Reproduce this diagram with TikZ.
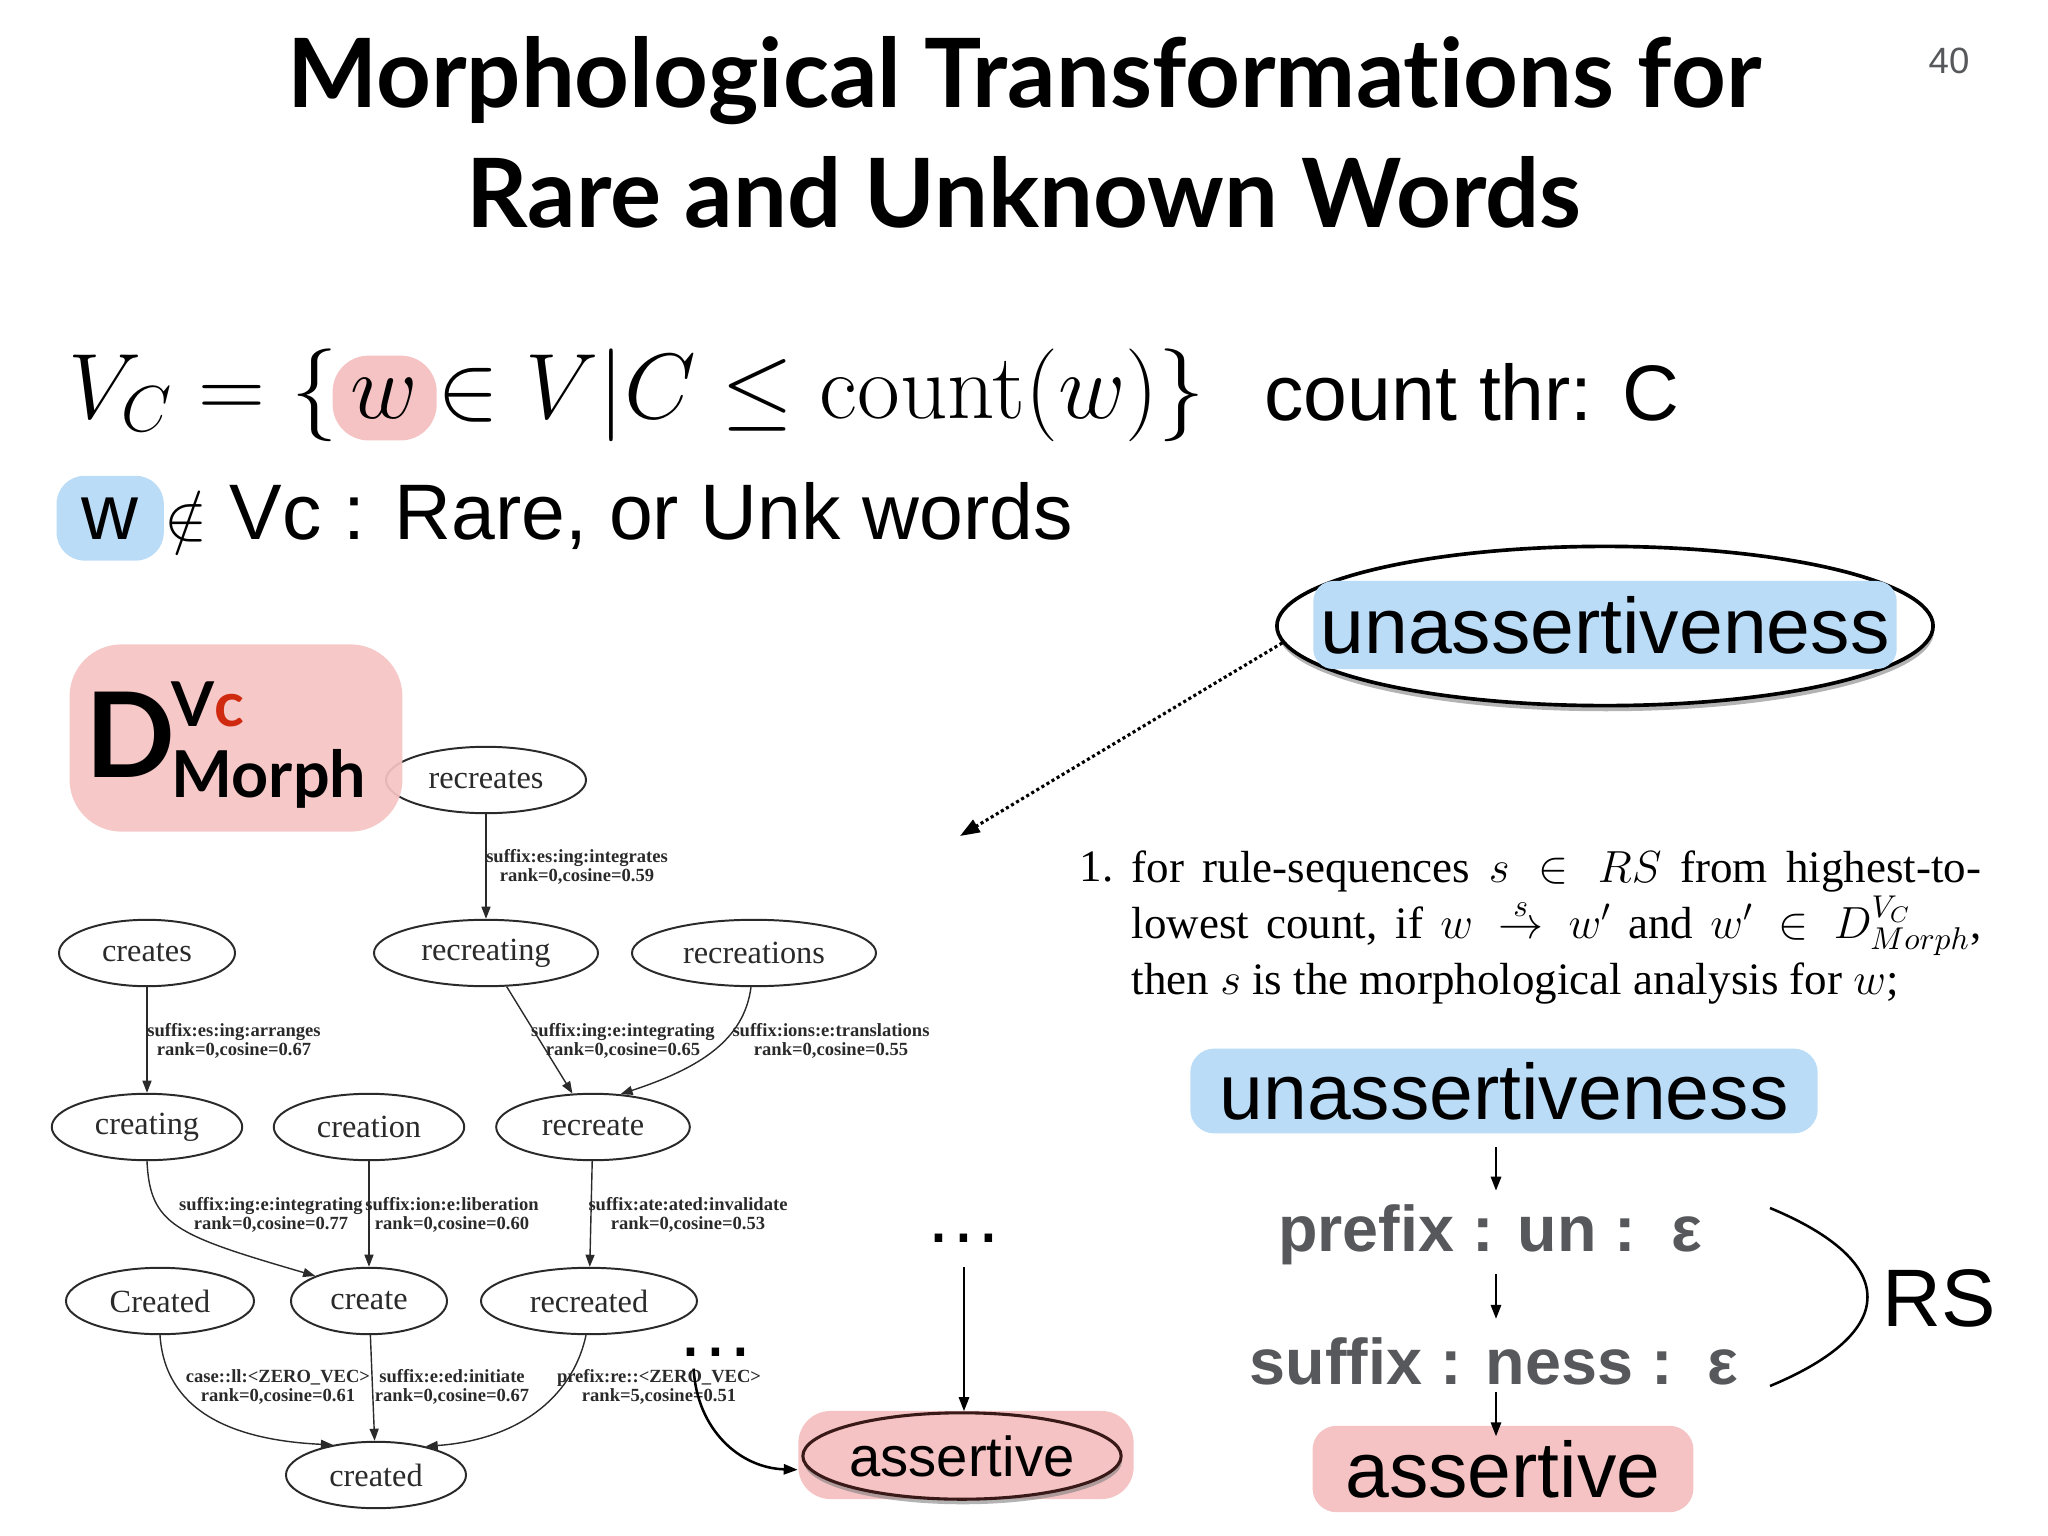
\RequirePackage{fix-cm}
\documentclass[tikz,border=0pt]{standalone}
\usepackage[no-math]{fontspec}
\setmainfont{Liberation Sans}
\newfontfamily\titlefont[Ligatures=NoCommon]{Lato}
\newfontfamily\graphfont{Liberation Serif}
\usetikzlibrary{arrows.meta, positioning, calc, shapes.geometric, shadows}
\definecolor{slidepink}{HTML}{F5C3C3}
\definecolor{slideblue}{HTML}{BBDCF7}
\definecolor{rulegray}{HTML}{57585B}
\definecolor{vcred}{HTML}{CF2A10}
\definecolor{graphink}{HTML}{2A2A2A}
\definecolor{assertrim}{HTML}{3A1A18}

\tikzset{
  wordnode/.style={ellipse, draw=graphink, line width=0.7pt, inner sep=0pt,
    minimum height=0.83cm, text=graphink, font=\graphfont\fontsize{11.5}{12}\selectfont},
  edgelabel/.style={inner sep=0pt, align=center, text=graphink,
    font=\graphfont\bfseries\fontsize{6.6}{6.6}\selectfont},
  graphedge/.style={-{Triangle[length=4.3pt, width=3.2pt]}, line width=0.5pt, graphink},
  rulearrow/.style={-{Triangle[length=5pt, width=3.6pt]}, line width=0.9pt},
  pinkbox/.style={fill=slidepink, rounded corners=0.3cm, inner sep=0pt},
  bluebox/.style={fill=slideblue, rounded corners=0.3cm, inner sep=0pt},
  slidetext/.style={inner sep=0pt, font=\fontsize{28}{32}\selectfont},
  ruletext/.style={inner sep=0pt, text=rulegray, font=\bfseries\fontsize{23}{26}\selectfont},
}

\begin{document}
\begin{tikzpicture}[x=0.0125cm, y=-0.0125cm]
  \useasboundingbox (0,0) rectangle (2048,1536);
  % Title
  \node[anchor=base, font=\titlefont\bfseries\fontsize{34}{40}\selectfont] (titleA) at (1024,107) {Morphological Transformations for};
  \node[anchor=base, font=\titlefont\bfseries\fontsize{34}{40}\selectfont] (titleB) at (1024,227) {Rare and Unknown Words};
  \node[anchor=base, text=rulegray, font=\fontsize{13}{15}\selectfont] (pagenum) at (1949,74) {40};

  % Vocabulary
  \node[anchor=base west, inner sep=0pt, font=\fontsize{33}{38}\selectfont] (vcleft) at (68,418) {$V_C=\bigl\{$};
  \node[pinkbox, anchor=base west, minimum width=1.3cm, minimum height=1.06cm, rounded corners=0.45cm, font=\fontsize{33}{38}\selectfont] (vcword) at ([xshift=-0.08cm]vcleft.base east) {$w$};
  \node[anchor=base west, inner sep=0pt, font=\fontsize{33}{38}\selectfont] (vcright) at (vcword.base east) {$\in V|C\le\mathrm{count}\bigl(w\bigr)\bigr\}$};
  \node[slidetext, anchor=base west] (countthr) at (1264,420) {count thr: C};

  % Rare words
  \node[bluebox, anchor=base west, minimum width=1.34cm, minimum height=1.06cm, rounded corners=0.35cm, font=\fontsize{28}{32}\selectfont] (unkword) at (56,539) {w};
  \node[slidetext, anchor=base west] (unkrest) at (unkword.base east) {{\fontsize{23}{26}\selectfont$\notin$} Vc : Rare, or Unk words};

  % Graph of words
  \node[wordnode, minimum width=2.5cm] (recreates) at (486,780) {recreates};
  \node[wordnode, minimum width=2.2cm] (creates) at (147,953) {creates};
  \node[wordnode, minimum width=2.8cm] (recreating) at (486,953) {recreating};
  \node[wordnode, minimum width=3.05cm] (recreations) at (754,953) {recreations};
  \node[wordnode, minimum width=2.38cm] (creating) at (147,1127) {creating};
  \node[wordnode, minimum width=2.38cm] (creation) at (369,1127) {creation};
  \node[wordnode, minimum width=2.42cm] (recreate) at (593,1127) {recreate};
  \node[wordnode, minimum width=2.35cm] (capcreated) at (160,1301) {Created};
  \node[wordnode, minimum width=1.95cm] (create) at (369,1301) {create};
  \node[wordnode, minimum width=2.7cm] (recreated) at (589,1301) {recreated};
  \node[wordnode, minimum width=2.25cm] (created) at (376,1475) {created};

  \draw[graphedge] (recreates) -- (recreating);
  \draw[graphedge] (creates) -- (creating);
  \draw[graphedge] (recreating) -- (recreate);
  \draw[graphedge] (recreations.265) .. controls (744,1040) and (700,1068) .. (recreate.50);
  \draw[graphedge] (creating.south) .. controls (150,1225) and (175,1235) .. (create.155);
  \draw[graphedge] (creation) -- (create);
  \draw[graphedge] (recreate) -- (recreated);
  \draw[graphedge] (capcreated.south) .. controls (165,1410) and (230,1440) .. (created.145);
  \draw[graphedge] (create) -- (created);
  \draw[graphedge] (recreated.265) .. controls (572,1400) and (515,1440) .. (created.30);

  \node[edgelabel] (lblrecreates) at (577,867) {suffix:es:ing:integrates\\rank=0,cosine=0.59};
  \node[edgelabel] (lblcreates) at (234,1041) {suffix:es:ing:arranges\\rank=0,cosine=0.67};
  \node[edgelabel] (lblrecreating) at (623,1041) {suffix:ing:e:integrating\\rank=0,cosine=0.65};
  \node[edgelabel] (lblrecreations) at (831,1041) {suffix:ions:e:translations\\rank=0,cosine=0.55};
  \node[edgelabel] (lblcreating) at (271,1215) {suffix:ing:e:integrating\\rank=0,cosine=0.77};
  \node[edgelabel] (lblcreation) at (452,1215) {suffix:ion:e:liberation\\rank=0,cosine=0.60};
  \node[edgelabel] (lblrecreate) at (688,1215) {suffix:ate:ated:invalidate\\rank=0,cosine=0.53};
  \node[edgelabel] (lblcapcreated) at (278,1387) {case::ll:<ZERO\_VEC>\\rank=0,cosine=0.61};
  \node[edgelabel] (lblcreate) at (452,1387) {suffix:e:ed:initiate\\rank=0,cosine=0.67};
  \node[edgelabel] (lblrecreated) at (659,1387) {prefix:re::<ZERO\_VEC>\\rank=5,cosine=0.51};

  % Dictionary label
  \node[pinkbox, fill opacity=0.92, minimum width=4.16cm, minimum height=2.34cm, rounded corners=0.65cm] (dmorphbox) at (236,738) {};
  \node[anchor=base west, inner sep=0pt, font=\titlefont\bfseries\fontsize{42}{46}\selectfont] (dbig) at (85,777) {D};
  \node[anchor=base west, inner sep=0pt, font=\titlefont\bfseries\fontsize{22}{24}\selectfont] (dsup) at (171,726) {V\textcolor{vcred}{c}};
  \node[anchor=base west, inner sep=0pt, font=\titlefont\bfseries\fontsize{23}{26}\selectfont] (dsub) at (171,797) {Morph};

  % Other analyses
  \node[slidetext, anchor=base] (dotsup) at (964,1242) {…};
  \node[slidetext, anchor=base] (dotslow) at (716,1356) {…};
  \node[pinkbox, minimum width=4.19cm, minimum height=1.1cm, rounded corners=0.4cm] (assertbox) at (966,1455) {};
  \node[ellipse, draw=assertrim, line width=1.1pt, fill=slidepink, drop shadow={opacity=0.6, shadow xshift=0.3pt, shadow yshift=-1.8pt},
    minimum width=3.63cm, minimum height=1.08cm, inner sep=0pt, font=\fontsize{20}{22}\selectfont] (assertell) at (962,1456) {assertive};
  \draw[rulearrow] ([yshift=-0.31cm]dotsup.south) -- (dotsup.south |- assertell.north);
  \draw[rulearrow] ([xshift=-0.28cm, yshift=-0.15cm]dotslow.south) .. controls (697,1430) and (740,1468) .. (assertbox.185);

  % Unknown word
  \node[ellipse, draw, line width=1.3pt, fill=white, drop shadow={opacity=0.6, shadow xshift=0.3pt, shadow yshift=-2pt},
    minimum width=8.2cm, minimum height=1.99cm] (topword) at (1605,626) {};
  \node[bluebox, minimum width=7.29cm, minimum height=1.1cm, rounded corners=0.25cm, font=\fontsize{28}{32}\selectfont] (topwordtext) at (1605,625) {unassertiveness};
  \coordinate (dotend) at (960,836);
  \draw[densely dotted, line width=1.1pt, -{Triangle[length=7pt, width=5pt]}] (topword.183) -- (dotend);

  % Algorithm step
  \node[anchor=base west, inner sep=0pt, font=\graphfont\fontsize{16}{20}\selectfont] (stepnum) at (1079,881) {1.};
  \node[anchor=north west, inner sep=0pt, text width=10.62cm, align=justify, font=\graphfont\fontsize{16}{19.9}\selectfont] (steptext) at (1131,850)
    {for rule-sequences $s\in RS$ from highest-to-\linebreak lowest count, if $w\stackrel{s}{\rightarrow}w'$ and $w'\in\smash{D^{V_C}_{Morph}}$,\linebreak then $s$ is the morphological analysis for $w$;};

  % Rule sequence
  \node[bluebox, minimum width=7.84cm, minimum height=1.06cm, rounded corners=0.3cm, font=\fontsize{28}{32}\selectfont] (unaswbox) at (1504,1091) {unassertiveness};
  \node[ruletext, anchor=base] (prefixrule) at (1490,1251) {prefix : un : \,ε};
  \node[ruletext, anchor=base] (suffixrule) at (1494,1384) {suffix : ness : \,ε};
  \node[pinkbox, minimum width=4.76cm, minimum height=1.08cm, rounded corners=0.3cm, font=\fontsize{28}{32}\selectfont] (assertlow) at (1503,1469) {assertive};
  \coordinate (rulecol) at (1496,0);
  \draw[rulearrow, shorten <=0.16cm, shorten >=0.16cm] (rulecol |- unaswbox.south) -- (rulecol |- prefixrule.north);
  \draw[rulearrow, shorten <=0.11cm, shorten >=0.22cm] (rulecol |- prefixrule.south) -- (rulecol |- suffixrule.north);
  \draw[rulearrow, shorten <=0.09cm, shorten >=-0.14cm] (rulecol |- suffixrule.south) -- (rulecol |- assertlow.north);
  \draw[line width=0.9pt] (1770,1208) .. controls (1900,1262) and (1900,1332) .. (1770,1386);
  \node[anchor=base, inner sep=0pt, font=\fontsize{29}{32}\selectfont] (rslabel) at (1939,1326) {RS};
\end{tikzpicture}
\end{document}
